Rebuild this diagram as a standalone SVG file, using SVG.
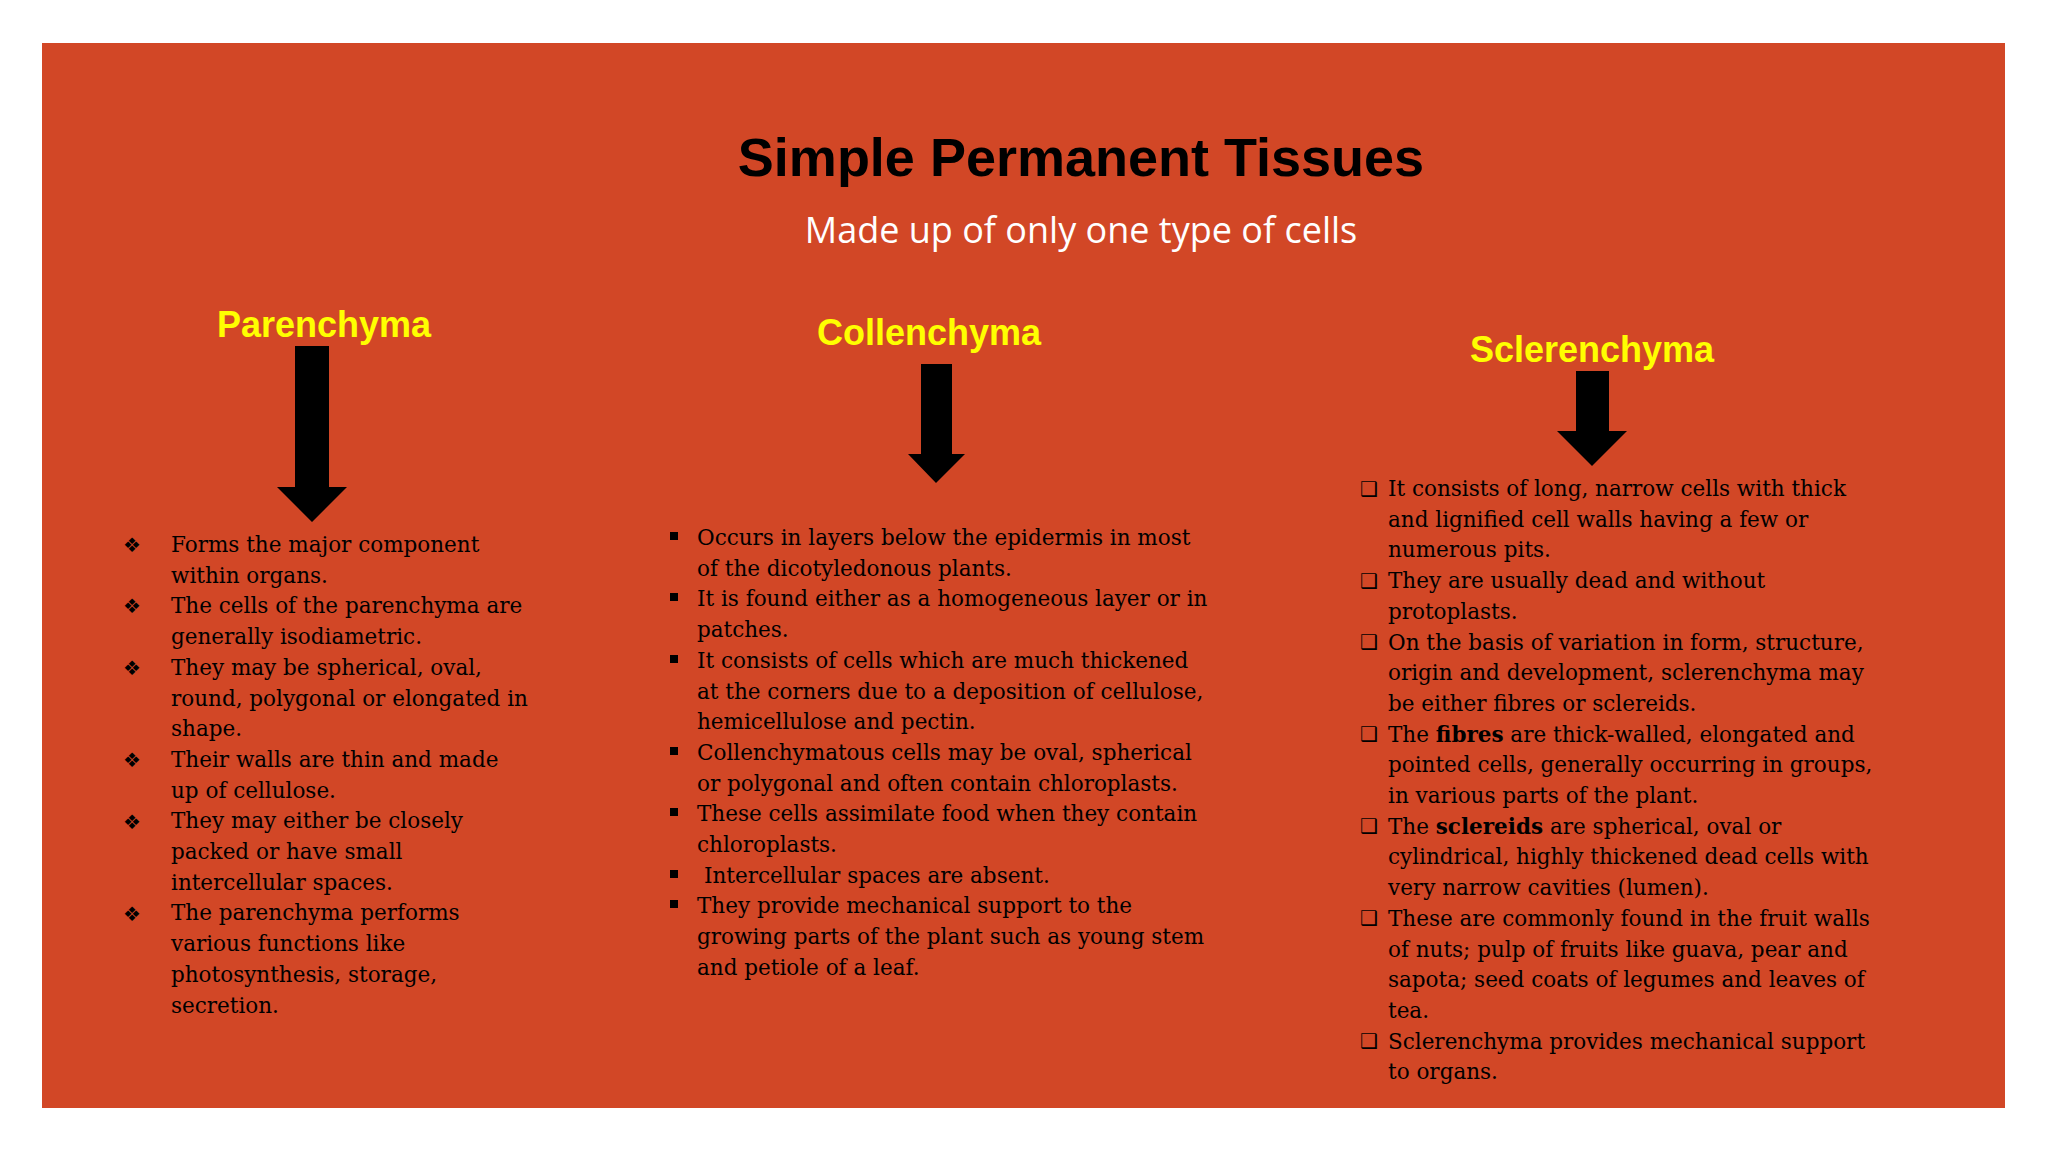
<svg xmlns="http://www.w3.org/2000/svg" width="2048" height="1152" viewBox="0 0 2048 1152">
<style>
.t{font-family:"DejaVu Serif",serif;font-size:21.5px;fill:#000}
.b{font-family:"DejaVu Sans",sans-serif;fill:#000}
.h{font-family:"Liberation Sans",Arial,sans-serif;font-weight:bold;font-size:36px;fill:#FFFF00;text-anchor:middle}
</style>
<rect width="2048" height="1152" fill="#fff"/>
<rect x="42" y="43" width="1963" height="1065" fill="#D24726"/>
<g id="title">
<text x="1081" y="176" text-anchor="middle" font-family="Liberation Sans,Arial,sans-serif" font-weight="bold" font-size="54">Simple Permanent Tissues</text>
<text x="1081" y="243" text-anchor="middle" font-family="Open Sans,sans-serif" font-size="36" fill="#fff">Made up of only one type of cells</text>
</g>
<g id="connectors" fill="#000">
<polygon points="295,346 329,346 329,487 347,487 312,522 277,487 295,487"/>
<polygon points="921,364 952,364 952,454 965,454 936,483 908,454 921,454"/>
<polygon points="1576,371 1609,371 1609,431 1627,431 1592,466 1557,431 1576,431"/>
</g>
<g id="parenchyma">
<text class="h" x="324" y="337">Parenchyma</text>
<g class="b" font-size="20"><text x="123" y="552">❖</text><text x="123" y="613">❖</text><text x="123" y="675">❖</text><text x="123" y="767">❖</text><text x="123" y="829">❖</text><text x="123" y="921">❖</text></g>
<text class="t"><tspan x="171" y="552">Forms the major component</tspan><tspan x="171" dy="30.7">within organs.</tspan><tspan x="171" dy="30.7">The cells of the parenchyma are</tspan><tspan x="171" dy="30.7">generally isodiametric.</tspan><tspan x="171" dy="30.7">They may be spherical, oval,</tspan><tspan x="171" dy="30.7">round, polygonal or elongated in</tspan><tspan x="171" dy="30.7">shape.</tspan><tspan x="171" dy="30.7">Their walls are thin and made</tspan><tspan x="171" dy="30.7">up of cellulose.</tspan><tspan x="171" dy="30.7">They may either be closely</tspan><tspan x="171" dy="30.7">packed or have small</tspan><tspan x="171" dy="30.7">intercellular spaces.</tspan><tspan x="171" dy="30.7">The parenchyma performs</tspan><tspan x="171" dy="30.7">various functions like</tspan><tspan x="171" dy="30.7">photosynthesis, storage,</tspan><tspan x="171" dy="30.7">secretion.</tspan></text>
</g>
<g id="collenchyma">
<text class="h" x="929" y="345">Collenchyma</text>
<g fill="#000"><rect x="670" y="532" width="8" height="8"/><rect x="670" y="593" width="8" height="8"/><rect x="670" y="655" width="8" height="8"/><rect x="670" y="747" width="8" height="8"/><rect x="670" y="808" width="8" height="8"/><rect x="670" y="870" width="8" height="8"/><rect x="670" y="900" width="8" height="8"/></g>
<text class="t"><tspan x="697" y="545">Occurs in layers below the epidermis in most</tspan><tspan x="697" dy="30.7">of the dicotyledonous plants.</tspan><tspan x="697" dy="30.7">It is found either as a homogeneous layer or in</tspan><tspan x="697" dy="30.7">patches.</tspan><tspan x="697" dy="30.7">It consists of cells which are much thickened</tspan><tspan x="697" dy="30.7">at the corners due to a deposition of cellulose,</tspan><tspan x="697" dy="30.7">hemicellulose and pectin.</tspan><tspan x="697" dy="30.7">Collenchymatous cells may be oval, spherical</tspan><tspan x="697" dy="30.7">or polygonal and often contain chloroplasts.</tspan><tspan x="697" dy="30.7">These cells assimilate food when they contain</tspan><tspan x="697" dy="30.7">chloroplasts.</tspan><tspan x="704" dy="30.7">Intercellular spaces are absent.</tspan><tspan x="697" dy="30.7">They provide mechanical support to the</tspan><tspan x="697" dy="30.7">growing parts of the plant such as young stem</tspan><tspan x="697" dy="30.7">and petiole of a leaf.</tspan></text>
</g>
<g id="sclerenchyma">
<text class="h" x="1592" y="362">Sclerenchyma</text>
<g class="b" font-size="20"><text x="1360" y="496">❑</text><text x="1360" y="588">❑</text><text x="1360" y="649">❑</text><text x="1360" y="741">❑</text><text x="1360" y="833">❑</text><text x="1360" y="925">❑</text><text x="1360" y="1048">❑</text></g>
<text class="t"><tspan x="1388" y="496">It consists of long, narrow cells with thick</tspan><tspan x="1388" dy="30.7">and lignified cell walls having a few or</tspan><tspan x="1388" dy="30.7">numerous pits.</tspan><tspan x="1388" dy="30.7">They are usually dead and without</tspan><tspan x="1388" dy="30.7">protoplasts.</tspan><tspan x="1388" dy="30.7">On the basis of variation in form, structure,</tspan><tspan x="1388" dy="30.7">origin and development, sclerenchyma may</tspan><tspan x="1388" dy="30.7">be either fibres or sclereids.</tspan><tspan x="1388" dy="30.7">The <tspan font-weight="bold">fibres</tspan> are thick-walled, elongated and</tspan><tspan x="1388" dy="30.7">pointed cells, generally occurring in groups,</tspan><tspan x="1388" dy="30.7">in various parts of the plant.</tspan><tspan x="1388" dy="30.7">The <tspan font-weight="bold">sclereids</tspan> are spherical, oval or</tspan><tspan x="1388" dy="30.7">cylindrical, highly thickened dead cells with</tspan><tspan x="1388" dy="30.7">very narrow cavities (lumen).</tspan><tspan x="1388" dy="30.7">These are commonly found in the fruit walls</tspan><tspan x="1388" dy="30.7">of nuts; pulp of fruits like guava, pear and</tspan><tspan x="1388" dy="30.7">sapota; seed coats of legumes and leaves of</tspan><tspan x="1388" dy="30.7">tea.</tspan><tspan x="1388" dy="30.7">Sclerenchyma provides mechanical support</tspan><tspan x="1388" dy="30.7">to organs.</tspan></text>
</g>
</svg>
